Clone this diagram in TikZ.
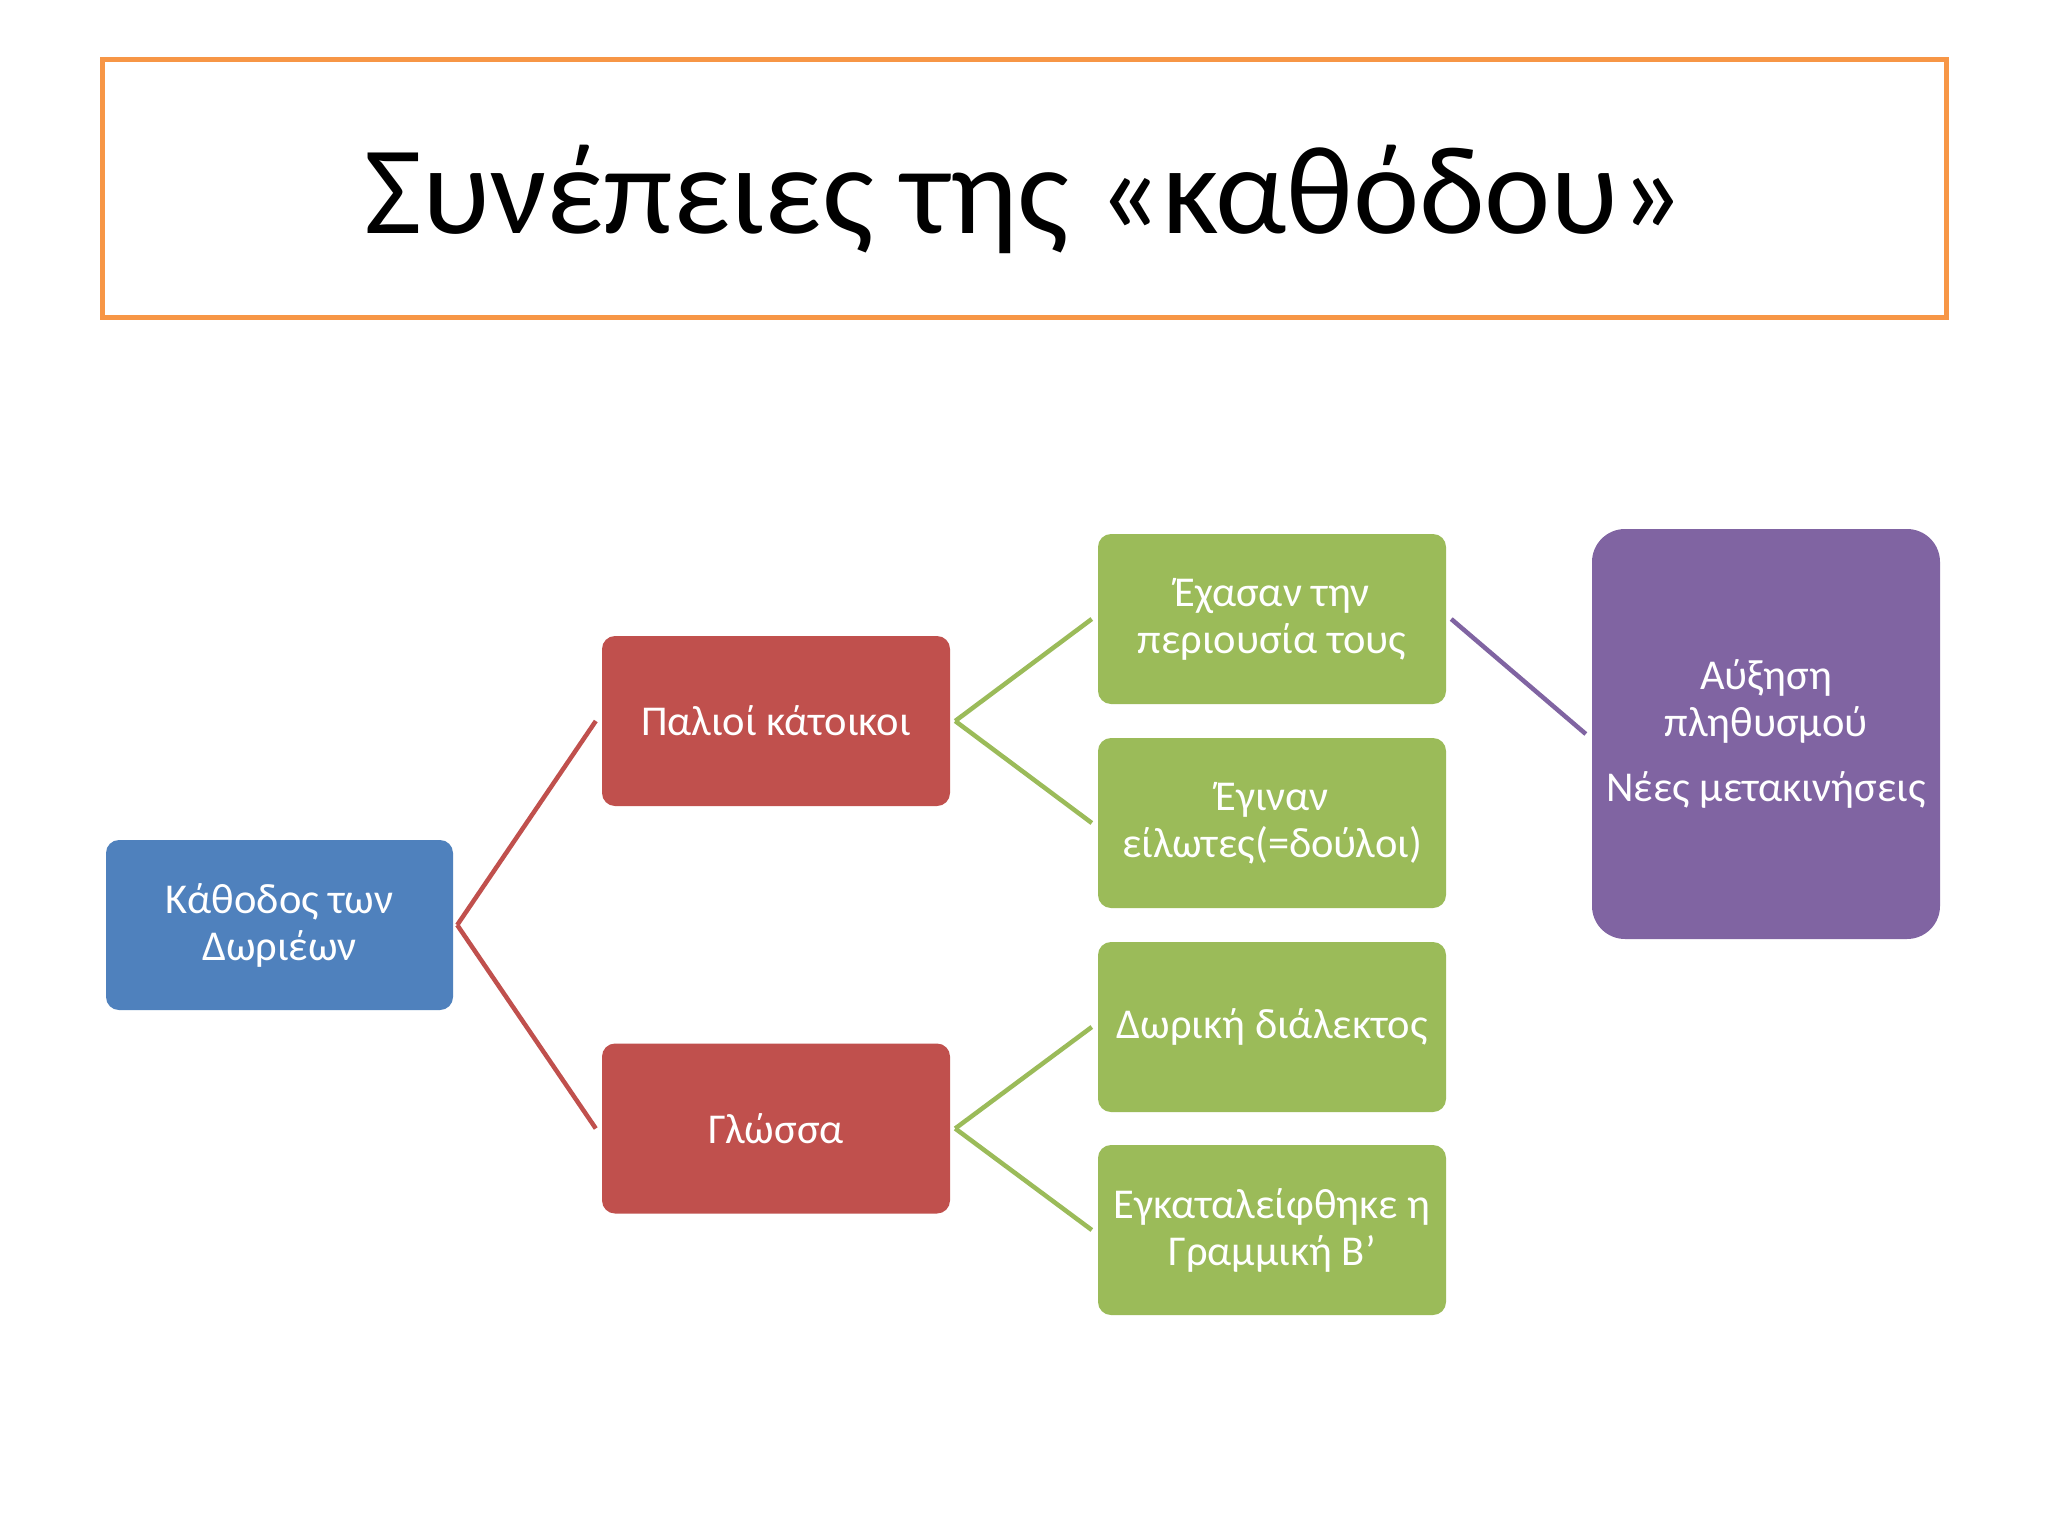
\documentclass[tikz,border=0pt]{standalone}
\usepackage{fontspec}
\setmainfont{Carlito}
\definecolor{cOrange}{HTML}{F79646}
\definecolor{cBlue}{HTML}{4F81BD}
\definecolor{cRed}{HTML}{C0504D}
\definecolor{cGreen}{HTML}{9BBB59}
\definecolor{cPurple}{HTML}{8064A2}
\begin{document}
\begin{tikzpicture}[x=1pt,y=-1pt,
  box/.style={rounded corners=13pt, minimum width=348pt, minimum height=170pt,
    text=white, font=\fontsize{42.5}{47}\selectfont, align=center, inner sep=0pt},
  conn/.style={line width=4.5pt}]
\useasboundingbox[fill=white] (0,0) rectangle (2048,1536);
% title
\draw[cOrange, line width=5pt] (102,60) rectangle (1946,317);
\node[anchor=base, font=\fontsize{125.5}{140}\selectfont, inner sep=0pt] (title) at (1024,233) {Συνέπειες της «καθόδου»};
% nodes
\node[box, fill=cBlue, minimum width=347pt] (dor) at (279.5,925) {Κάθοδος των\\Δωριέων};
\node[box, fill=cRed] (pal) at (776,721) {Παλιοί κάτοικοι};
\node[box, fill=cRed] (glo) at (776,1128.5) {Γλώσσα};
\node[box, fill=cGreen] (exa) at (1272,619) {Έχασαν την\\περιουσία τους};
\node[box, fill=cGreen] (egi) at (1272,823) {Έγιναν\\είλωτες(=δούλοι)};
\node[box, fill=cGreen] (dial) at (1272,1027) {Δωρική διάλεκτος};
\node[box, fill=cGreen] (grm) at (1272,1230) {Εγκαταλείφθηκε η\\Γραμμική Β’};
\node[box, fill=cPurple, rounded corners=33pt, minimum height=410pt] (aux) at (1766,734) {Αύξηση\\πληθυσμού\\[18pt]Νέες μετακινήσεις};
% connectors
\draw[conn, cRed] ([xshift=4pt]dor.east) -- ([xshift=-6pt]pal.west);
\draw[conn, cRed] ([xshift=4pt]dor.east) -- ([xshift=-6pt]glo.west);
\draw[conn, cGreen] ([xshift=5pt]pal.east) -- ([xshift=-6pt]exa.west);
\draw[conn, cGreen] ([xshift=5pt]pal.east) -- ([xshift=-6pt]egi.west);
\draw[conn, cGreen] ([xshift=5pt]glo.east) -- ([xshift=-6pt]dial.west);
\draw[conn, cGreen] ([xshift=5pt]glo.east) -- ([xshift=-6pt]grm.west);
\draw[conn, cPurple] ([xshift=5pt]exa.east) -- ([xshift=-6pt]aux.west);
\end{tikzpicture}
\end{document}
